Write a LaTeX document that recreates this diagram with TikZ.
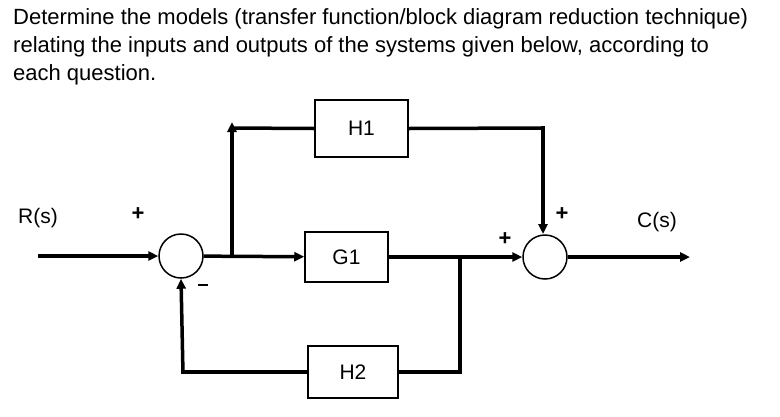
\documentclass[tikz,border=0pt]{standalone}
\usepackage{fontspec}
\setmainfont{Liberation Sans}
\usetikzlibrary{arrows.meta}
\begin{document}
\begin{tikzpicture}[x=1pt,y=-1pt,
 blk/.style={draw,line width=1.5pt,minimum width=#1},
 sum/.style={draw,circle,line width=1.5pt,minimum size=44pt,inner sep=0},
 w/.style={line width=3.5pt},
 a/.style={w,-{Triangle[length=10pt,width=9pt]}},
 txt/.style={font=\fontsize{22}{28}\selectfont},
 lab/.style={font=\fontsize{21}{21}\selectfont},
 sg/.style={font=\bfseries\fontsize{22}{22}\selectfont}]
\useasboundingbox (0,0) rectangle (780,416);
\node[txt,anchor=north west,align=left,inner sep=0] (t) at (13,8) {Determine the models (transfer function/block diagram reduction technique)\\relating the inputs and outputs of the systems given below, according to\\each question.};
\node[blk=93pt,minimum height=57pt,lab] (h1) at (361.5,128.5) {H1};
\node[blk=83pt,minimum height=50pt,lab] (g1) at (346.5,257) {G1};
\node[blk=90pt,minimum height=52pt,lab] (h2) at (353,372) {H2};
\node[sum] (s1) at (181,256) {};
\node[sum] (s2) at (545,257) {};
\node[lab] (r) at (38,218) {R(s)};
\node[lab] (c) at (657,222) {C(s)};
\node[sg] (p1) at (138,214) {+};
\node[sg] (m1) at (203,287) {\rule[0.3ex]{0.45em}{2pt}};
\node[sg] (p2) at (562,214) {+};
\node[sg] (p3) at (505,239) {+};
\coordinate (in) at (38,256);
\coordinate (out) at (690,257);
\coordinate (b1) at (232,256);
\coordinate (b2) at (460,257);
\draw[a] (in) -- (s1);
\draw[a] (s1) -- (g1);
\draw[w] (b1) -- (232,128);
\draw[a] (b1) -- (232,122);
\draw[w] (230.25,128) -- (h1.west);
\draw[w] (h1.east) -- (544.75,128);
\draw[a] (543,126.25) -- (543,234);
\draw[w] (g1.east) -- (b2);
\draw[a] (b2) -- (s2);
\draw[w] (b2) -- (460,372) -- (h2.east);
\draw[w] (h2.west) -- (181.25,372);
\draw[a] (183,373.75) -- (s1.south);
\draw[a] (s2) -- (out);
\end{tikzpicture}
\end{document}
